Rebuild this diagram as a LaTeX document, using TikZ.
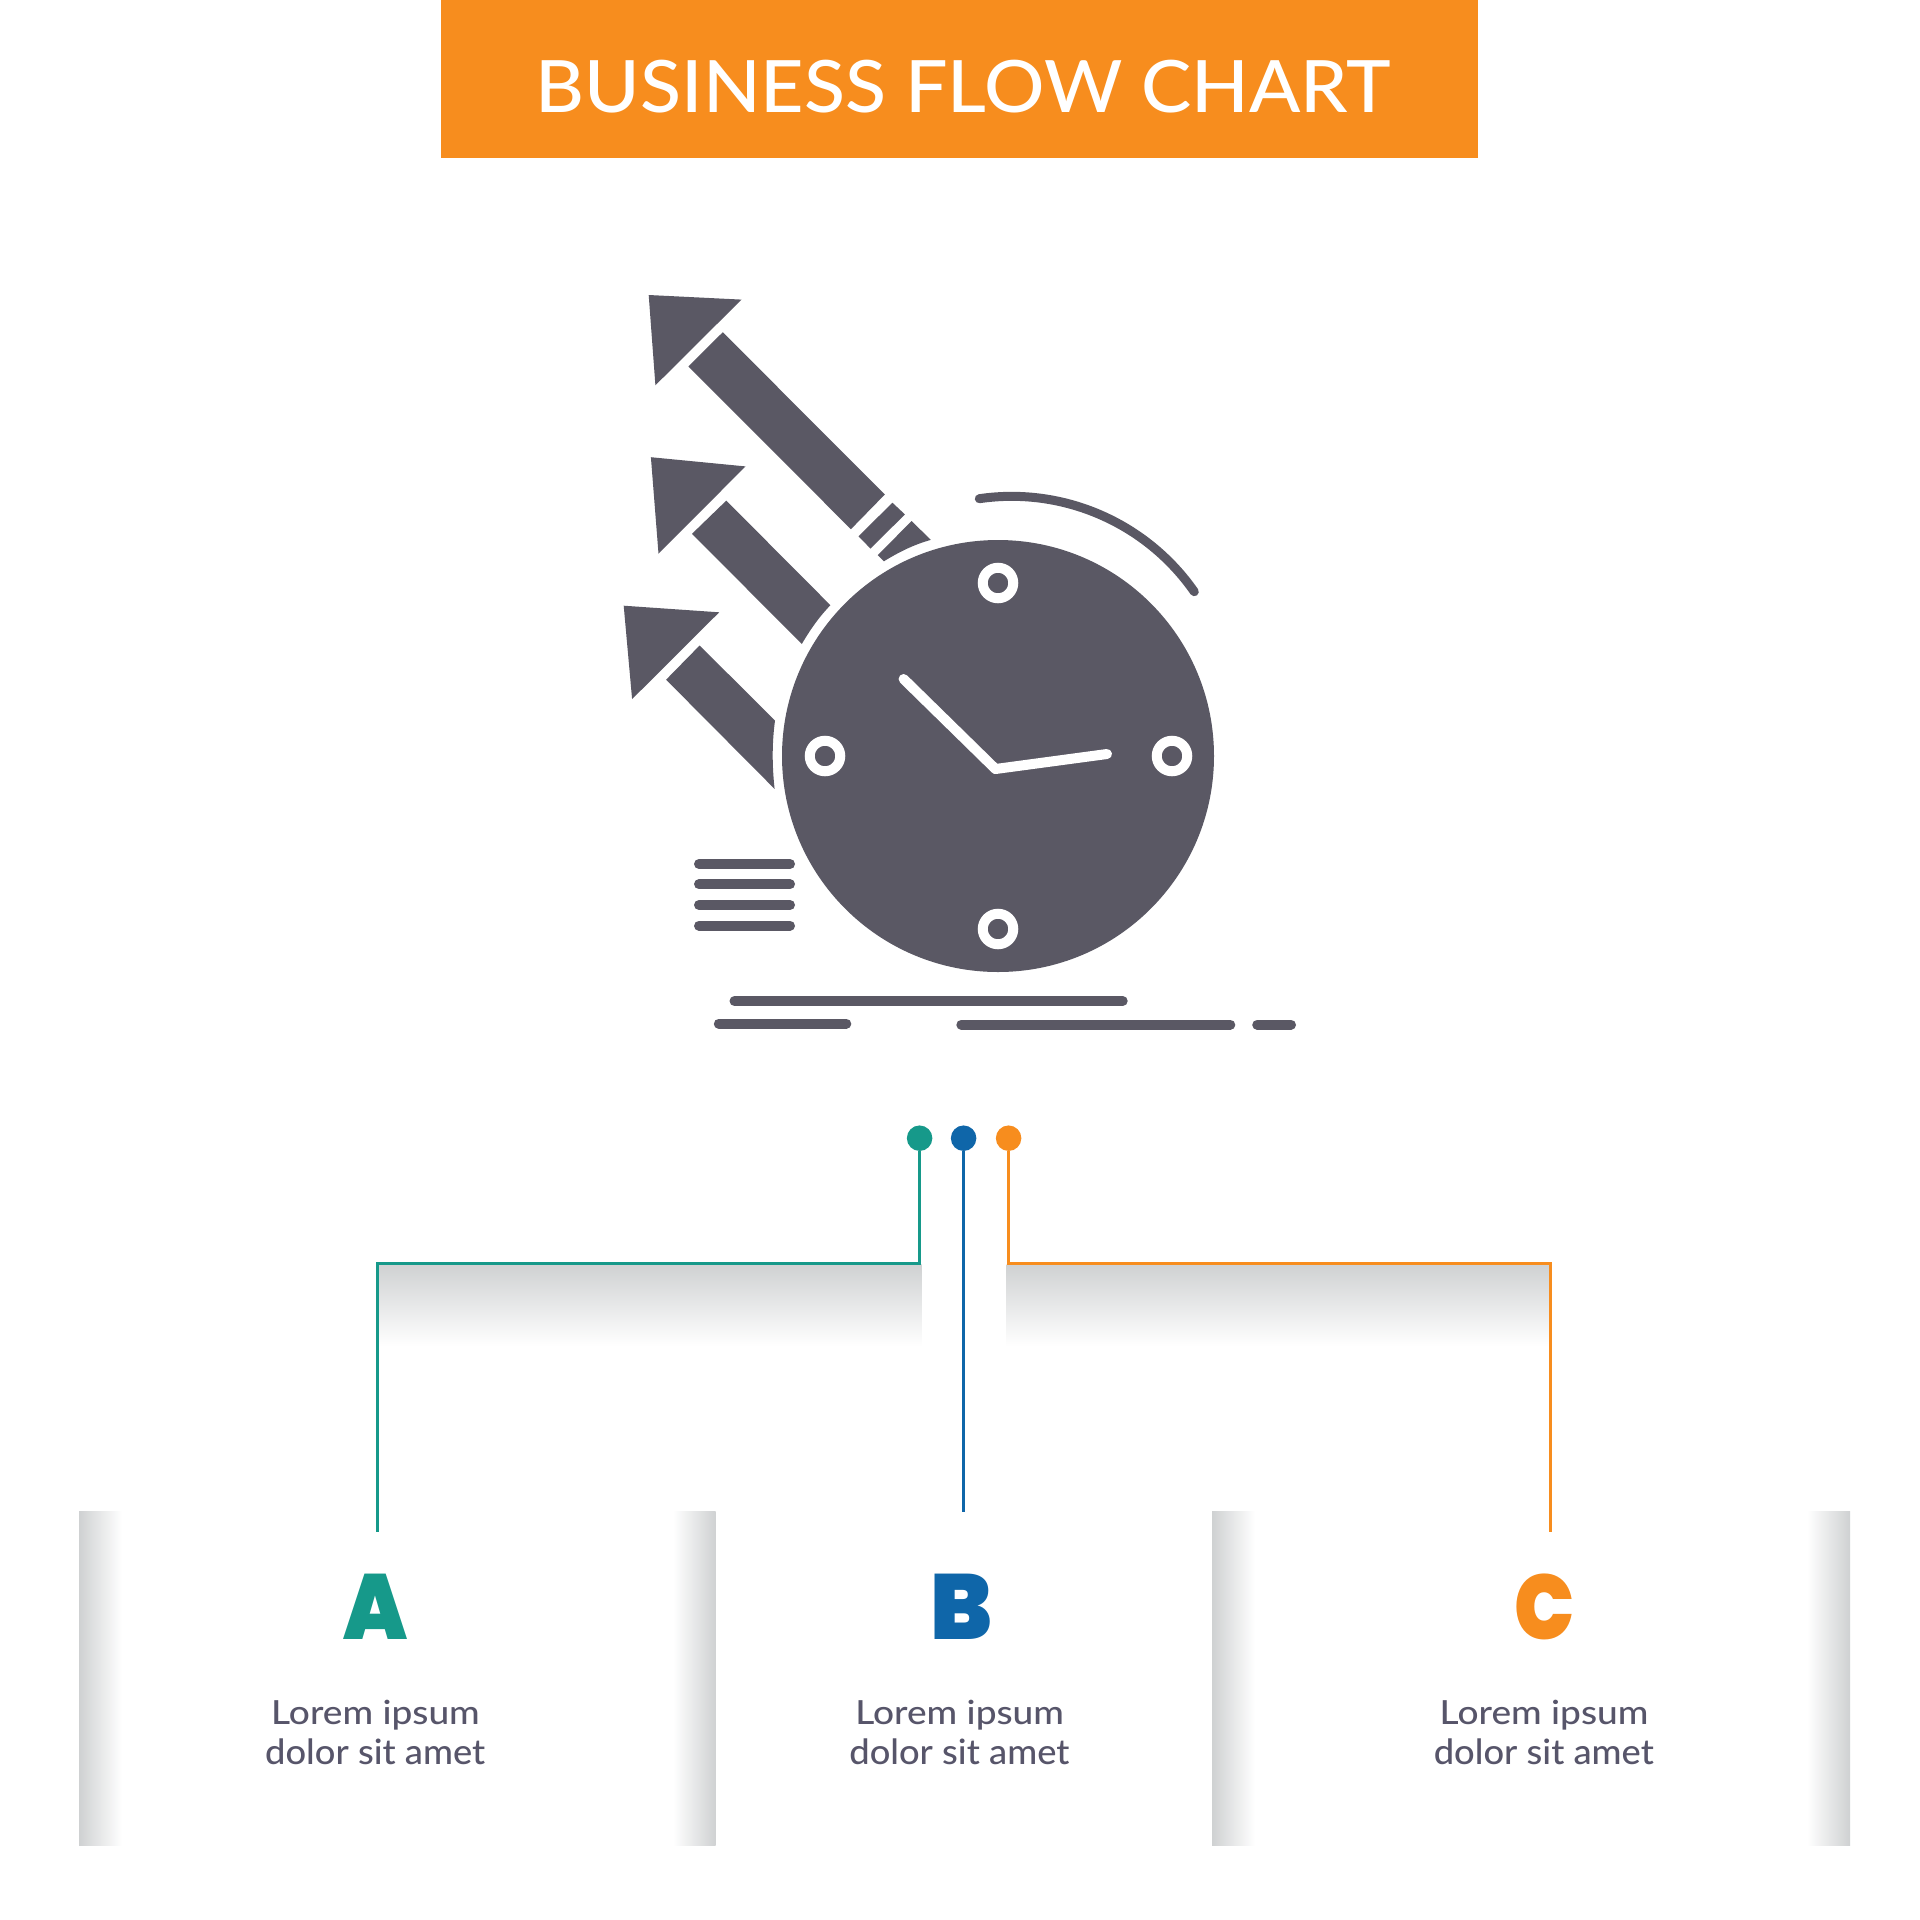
\documentclass[tikz,border=0pt]{standalone}
\usepackage{fontspec}
\setmainfont{Lato}[UprightFont=*-Medium]
\newfontfamily\heavyfont{Poppins}[UprightFont=*-Black]
\definecolor{brandorange}{HTML}{F78D1E}
\definecolor{brandteal}{HTML}{16998A}
\definecolor{brandblue}{HTML}{0F66A9}
\definecolor{icondark}{HTML}{5A5864}
\definecolor{textdark}{HTML}{57556A}
\definecolor{shadowgray}{HTML}{CFD1D2}
\tikzset{
  iconfill/.style={fill=icondark,draw=none},
  iconline/.style={draw=icondark,line width=10pt,line cap=round},
  ring/.style={circle,fill=icondark,draw=white,line width=10pt,minimum size=30.5pt,inner sep=0pt,outer sep=0pt},
  hand/.style={draw=white,line width=10pt,line cap=round,line join=round},
  txt/.style={anchor=base,inner sep=0pt,outer sep=0pt},
  pin/.style={circle,minimum size=25.5pt,inner sep=0pt,draw=none},
  wire/.style={line width=3pt,line join=miter},
}
\newcommand{\loremA}{\textcolor{textdark}{\resizebox*{208.6pt}{30pt}{Lorem ipsum}}}
\newcommand{\loremB}{\textcolor{textdark}{\resizebox*{220pt}{26pt}{dolor sit amet}}}
\begin{document}
\begin{tikzpicture}[x=1pt,y=-1pt]
\useasboundingbox (0,0) rectangle (1920,1920);
\fill[white] (0,0) rectangle (1920,1920);
% header
\fill[brandorange] (441,0) rectangle (1478,158);
\node[txt,text=white] (title) at (963.5,112) {\resizebox*{855pt}{53pt}{BUSINESS FLOW CHART}};
% shadows
\shade[top color=shadowgray,bottom color=white] (377.5,1264) rectangle (921.5,1346);
\shade[top color=shadowgray,bottom color=white] (1006.5,1264) rectangle (1550,1346);
% panels
\shade[left color=shadowgray,right color=white] (79,1511.6) rectangle (122,1845.3);
\shade[left color=white,right color=shadowgray] (673,1511.6) rectangle (715.6,1845.3);
\shade[left color=shadowgray,right color=white] (1212,1511.6) rectangle (1255,1845.3);
\shade[left color=white,right color=shadowgray] (1807,1511.6) rectangle (1850,1845.3);
% arrows
\fill[iconfill] (648.7,295) -- (741.5,299.6) -- (655.4,385.3) -- cycle;
\fill[iconfill] (722.8,332.2) -- (688.4,366.4) -- (850.9,529.2) -- (884.8,494.5) -- cycle;
\fill[iconfill] (892.4,502.7) -- (904.9,514.4) -- (870.5,548.6) -- (858.5,536.3) -- cycle;
\fill[iconfill] (911.6,521) -- (930.8,539.9) .. controls (914,544.5) and (899,552) .. (883.9,561.3) -- (877.7,555.2) -- cycle;
\fill[iconfill] (650.9,457.2) -- (745.5,466.4) -- (658.5,553.7) -- cycle;
\fill[iconfill] (726.3,500.6) -- (692,533.8) -- (801.8,644) .. controls (810,630) and (819,617) .. (830.4,605.2) -- cycle;
\fill[iconfill] (623.7,605.7) -- (719.2,612.3) -- (632.1,699.1) -- cycle;
\fill[iconfill] (699.6,645.5) -- (666.1,679.7) -- (774.6,788.9) .. controls (772,765) and (772,743) .. (775,720.5) -- cycle;
% clock
\fill[iconfill] (998,756) circle[radius=216];
\node[ring] (ringT) at (998,583) {};
\node[ring] (ringL) at (825,756) {};
\node[ring] (ringR) at (1172,756) {};
\node[ring] (ringB) at (998,929) {};
\draw[hand] (903.6,679) -- (995.5,769) -- (1107,754);
\draw[draw=icondark,line width=9pt,line cap=round] (979.3,498.7) .. controls (1062.9,486.4) and (1146,522.5) .. (1194.3,591.7);
% list lines
\draw[iconline] (699,864) -- (790,864);
\draw[iconline] (699,884.3) -- (790,884.3);
\draw[iconline] (699,905) -- (790,905);
\draw[iconline] (699,925.6) -- (790,925.6);
\draw[iconline] (734.5,1001) -- (1122.7,1001);
\draw[iconline] (718.8,1023.6) -- (846.3,1023.6);
\draw[iconline] (961.3,1024.6) -- (1230.3,1024.6);
\draw[iconline] (1257.2,1024.6) -- (1291,1024.6);
% pins
\node[pin,fill=brandteal] (pinA) at (919.6,1138.2) {};
\node[pin,fill=brandblue] (pinB) at (963.6,1138.2) {};
\node[pin,fill=brandorange] (pinC) at (1008.6,1138.2) {};
\coordinate (endA) at (377.5,1531.5);
\coordinate (endB) at (963.6,1511.6);
\coordinate (endC) at (1550.5,1531.5);
\coordinate (bendA) at (919.6,1263.7);
\coordinate (bendC) at (1008.6,1263.7);
\draw[wire,brandteal] (pinA) -- (bendA) -| (endA);
\draw[wire,brandblue] (pinB) -- (endB);
\draw[wire,brandorange] (pinC) -- (bendC) -| (endC);
% letters
\node[txt,text=brandteal] (letA) at (375.6,1639.8) {\heavyfont\resizebox*{64pt}{65.4pt}{A}};
\node[txt,text=brandblue] (letB) at (961,1639.8) {\heavyfont\resizebox*{62pt}{65.4pt}{B}};
\node[txt,text=brandorange] (letC) at (1544.9,1639.5) {\heavyfont\resizebox*{60pt}{66pt}{C}};
% captions
\node[txt] (capA1) at (375.4,1724) {\loremA};
\node[txt] (capA2) at (375.2,1764) {\loremB};
\node[txt] (capB1) at (959.6,1724) {\loremA};
\node[txt] (capB2) at (959.4,1764) {\loremB};
\node[txt] (capC1) at (1544,1724) {\loremA};
\node[txt] (capC2) at (1543.8,1764) {\loremB};
\end{tikzpicture}
\end{document}
